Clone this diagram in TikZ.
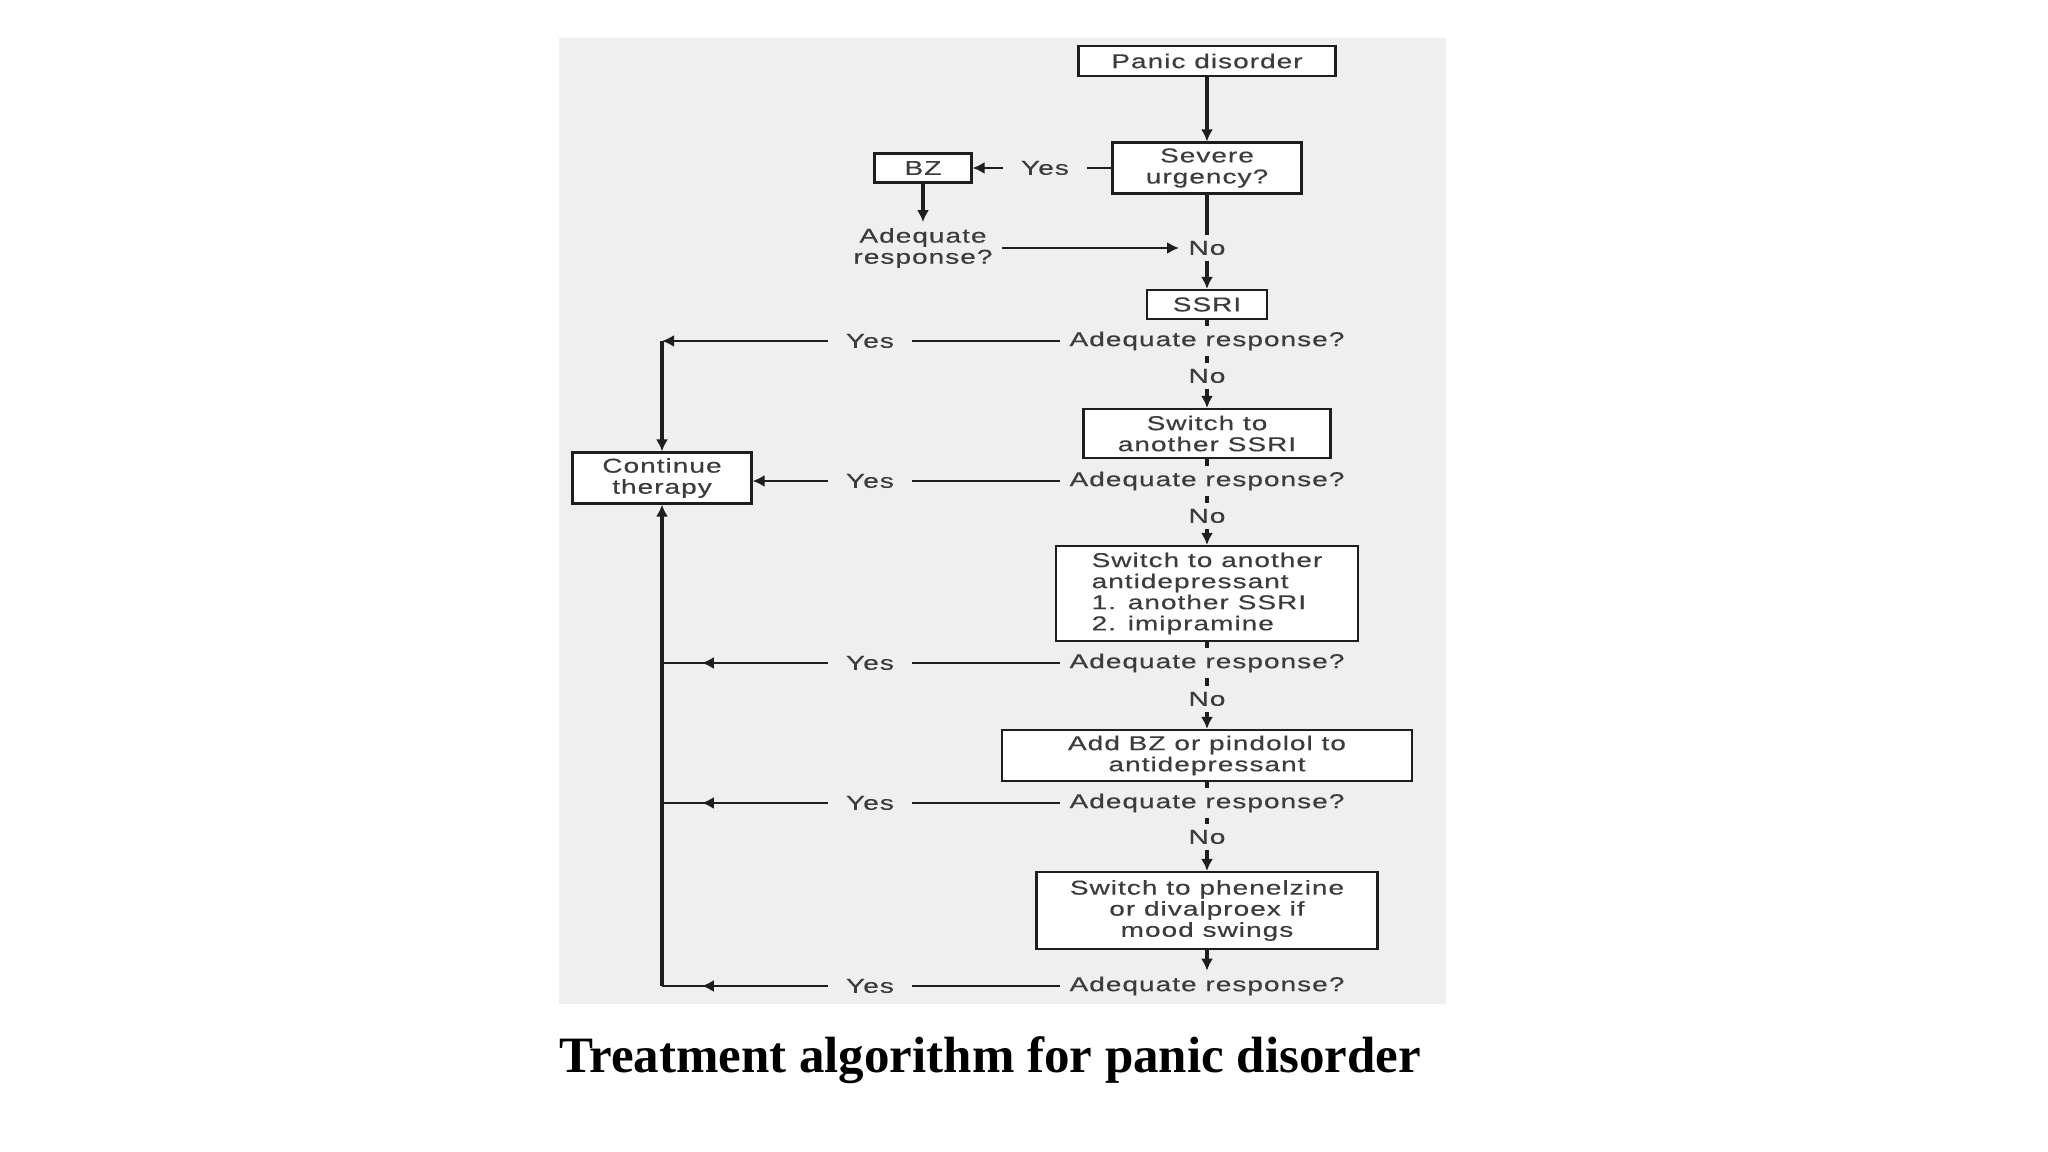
\documentclass[tikz,border=0pt]{standalone}
\usepackage{fontspec}
\setmainfont{Liberation Sans}
\newfontfamily\flowfont[FakeStretch=1.4,LetterSpace=5,FakeBold=0.4]{Liberation Sans}
\newfontfamily\captionfont{Liberation Serif}
\usepackage{tikz}
\usetikzlibrary{arrows.meta,positioning,calc,decorations.markings}
\definecolor{Ink}{HTML}{1E1E1E}
\definecolor{Label}{HTML}{3C3C3C}
\definecolor{Panel}{HTML}{EFEFEF}
\tikzset{
  box/.style={draw=Ink,line width=0.6pt,fill=white,align=center,inner sep=1pt,text=Label},
  tag/.style={text=Label,inner xsep=2.5pt,inner ysep=1.5pt,align=center},
  yestag/.style={tag,inner xsep=5pt},
  link/.style={draw=Ink,line width=0.9pt},
  arrow/.style={link,-{Latex[length=1.2mm,width=1.2mm]}},
  yesline/.style={draw=Ink,line width=0.7pt},
  yesArrow/.style={yesline,-{Latex[length=1.2mm,width=1.2mm]}},
  midArrow/.style={yesline,postaction={decorate},decoration={markings,mark=at position 0.76 with {\arrow{Latex[length=1.2mm,width=1.2mm]}}}}
}

\begin{document}
\begin{tikzpicture}[x=1cm,y=1cm,font=\flowfont\fontsize{5.7}{6}\selectfont]
  \useasboundingbox (0,0) rectangle (20.48,11.52);
  \fill[Panel] (5.59,1.48) rectangle (14.46,11.14);
  % urgency branch
  \node[box,minimum width=2.57cm,minimum height=0.30cm] (panic) at (12.07,10.91) {Panic disorder};
  \node[box,minimum width=1.89cm,minimum height=0.51cm] (urgency) at (12.07,9.84) {Severe\\urgency?};
  \node[box,minimum width=0.97cm,minimum height=0.29cm] (bz) at (9.23,9.84) {BZ};
  \node[yestag] (bzyes) at (10.45,9.84) {Yes};
  \node[tag] (bzresp) at (9.23,9.04) {Adequate\\response?};
  \node[tag] (nourg) at (12.07,9.04) {No};
  \node[box,minimum width=1.20cm,minimum height=0.29cm] (ssri) at (12.07,8.475) {SSRI};
  % main column
  \node[tag] (resp1) at (12.07,8.11) {Adequate response?};
  \node[yestag] (yes1) at (8.70,8.11) {Yes};
  \node[tag] (no1) at (12.07,7.76) {No};
  \node[box,minimum width=2.47cm,minimum height=0.49cm] (swssri) at (12.07,7.185) {Switch to\\another SSRI};
  \node[tag] (resp2) at (12.07,6.71) {Adequate response?};
  \node[yestag] (yes2) at (8.70,6.71) {Yes};
  \node[tag] (no2) at (12.07,6.36) {No};
  \node[box,minimum width=3.02cm,minimum height=0.95cm,align=left] (swad) at (12.07,5.585)
    {Switch to another\\antidepressant\\1. another SSRI\\2. imipramine};
  \node[tag] (resp3) at (12.07,4.89) {Adequate response?};
  \node[yestag] (yes3) at (8.70,4.89) {Yes};
  \node[tag] (no3) at (12.07,4.53) {No};
  \node[box,minimum width=4.10cm,minimum height=0.51cm] (addbz) at (12.07,3.965) {Add BZ or pindolol to\\antidepressant};
  \node[tag] (resp4) at (12.07,3.49) {Adequate response?};
  \node[yestag] (yes4) at (8.70,3.49) {Yes};
  \node[tag] (no4) at (12.07,3.15) {No};
  \node[box,minimum width=3.41cm,minimum height=0.77cm] (phen) at (12.07,2.415) {Switch to phenelzine\\or divalproex if\\mood swings};
  \node[tag] (resp5) at (12.07,1.66) {Adequate response?};
  \node[yestag] (yes5) at (8.70,1.66) {Yes};
  \node[box,minimum width=1.79cm,minimum height=0.51cm] (cont) at (6.62,6.74) {Continue\\therapy};
  % connectors
  \draw[arrow] (panic) -- (urgency);
  \draw[yesline] (urgency) -- (bzyes);
  \draw[yesArrow] (bzyes) -- (bz);
  \draw[arrow] (bz) -- (bzresp);
  \draw[yesArrow] (bzresp) -- (nourg);
  \draw[link] (urgency) -- (nourg);
  \draw[arrow] (nourg) -- (ssri);
  \draw[link] (ssri) -- (resp1);
  \draw[link] (resp1) -- (no1);
  \draw[arrow] (no1) -- (swssri);
  \draw[link] (swssri) -- (resp2);
  \draw[link] (resp2) -- (no2);
  \draw[arrow] (no2) -- (swad);
  \draw[link] (swad) -- (resp3);
  \draw[link] (resp3) -- (no3);
  \draw[arrow] (no3) -- (addbz);
  \draw[link] (addbz) -- (resp4);
  \draw[link] (resp4) -- (no4);
  \draw[arrow] (no4) -- (phen);
  \draw[arrow] (phen) -- (resp5);
  % yes rows
  \foreach \r in {1,...,5}{
    \draw[yesline] (resp\r) -- (yes\r);
  }
  \draw[yesArrow] (yes1) -- (yes1 -| cont);
  \draw[arrow] (yes1 -| cont) -- (cont);
  \draw[yesArrow] (yes2) -- (yes2 -| cont.east);
  \draw[midArrow] (yes3) -- (yes3 -| cont);
  \draw[midArrow] (yes4) -- (yes4 -| cont);
  \draw[midArrow] (yes5) -- (yes5 -| cont);
  \draw[arrow] (yes5 -| cont) -- (cont);
  \node[font=\captionfont\bfseries\fontsize{14.5}{16}\selectfont] (title) at (9.90,0.92) {Treatment algorithm for panic disorder};
\end{tikzpicture}
\end{document}
